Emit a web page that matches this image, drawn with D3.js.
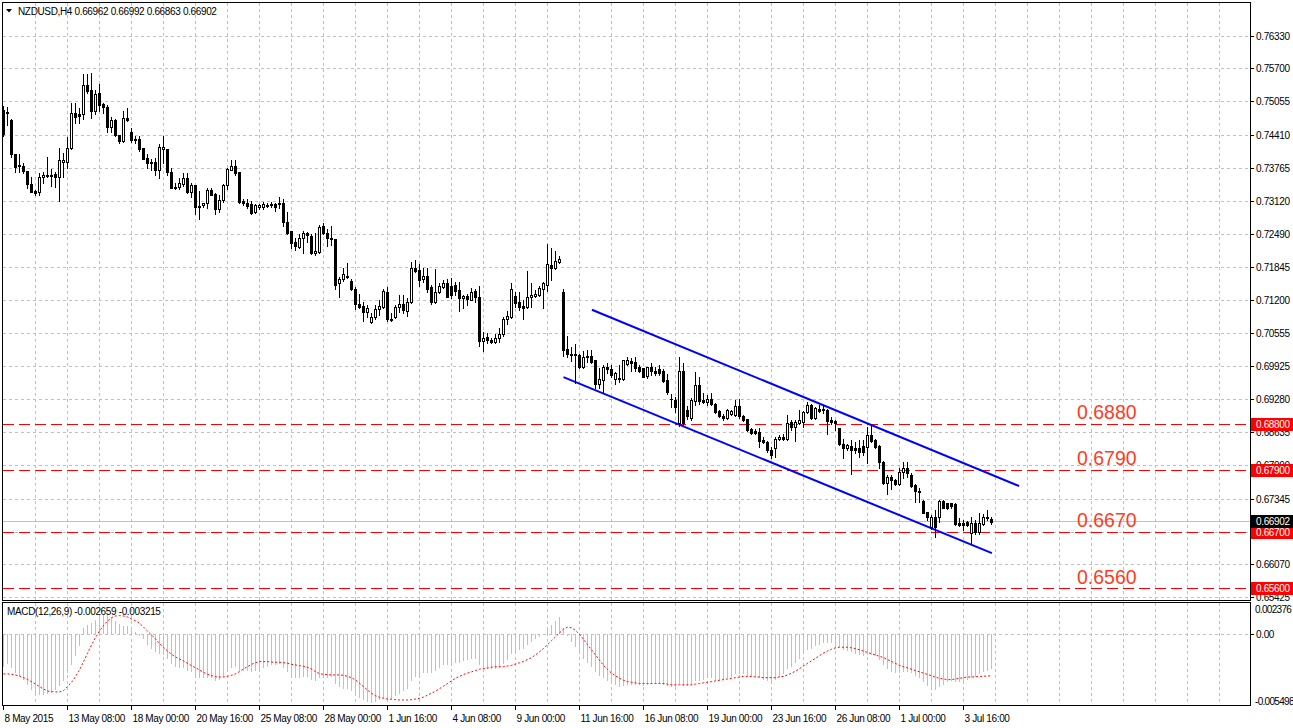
<!DOCTYPE html>
<html><head><meta charset="utf-8">
<script src="https://cdn.jsdelivr.net/npm/d3@7"></script>
<style>
body{margin:0;background:#fff;}
svg{display:block;}
text{font-family:"Liberation Sans",Arial,sans-serif;font-size:10px;letter-spacing:-0.35px;}
line{shape-rendering:crispEdges;}
</style>
</head><body>
<svg id="c" width="1293" height="728"></svg>
<script>
// ---------------- DATA ----------------
const symbolTitle = "NZDUSD,H4  0.66962 0.66992 0.66863 0.66902";
const macdTitle = "MACD(12,26,9) -0.002659 -0.003215";

const open = [0.7489,0.7486,0.7471,0.7405,0.7383,0.7382,0.7372,0.7347,0.7332,0.7330,
0.7359,0.7363,0.7363,0.7365,0.7359,0.7388,0.7388,0.7417,0.7485,0.7483,
0.7483,0.7539,0.7528,0.7487,0.7522,0.7502,0.7495,0.7456,0.7471,0.7442,
0.7429,0.7475,0.7448,0.7433,0.7433,0.7417,0.7396,0.7388,0.7388,0.7373,
0.7415,0.7415,0.7369,0.7341,0.7340,0.7347,0.7357,0.7330,0.7345,0.7303,
0.7305,0.7310,0.7334,0.7326,0.7297,0.7316,0.7345,0.7374,0.7382,0.7369,
0.7314,0.7310,0.7308,0.7291,0.7301,0.7301,0.7305,0.7307,0.7307,0.7307,
0.7310,0.7272,0.7254,0.7233,0.7223,0.7241,0.7252,0.7245,0.7212,0.7215,
0.7264,0.7252,0.7239,0.7239,0.7153,0.7161,0.7167,0.7157,0.7142,0.7113,
0.7109,0.7097,0.7078,0.7087,0.7103,0.7107,0.7136,0.7085,0.7087,0.7107,
0.7113,0.7099,0.7118,0.7184,0.7180,0.7161,0.7167,0.7146,0.7118,0.7136,
0.7147,0.7153,0.7149,0.7151,0.7140,0.7124,0.7128,0.7120,0.7138,0.7126,
0.7041,0.7050,0.7043,0.7039,0.7048,0.7054,0.7085,0.7087,0.7128,0.7118,
0.7109,0.7107,0.7126,0.7128,0.7130,0.7142,0.7151,0.7188,0.7184,0.7194,
0.7136,0.7025,0.7017,0.7017,0.7015,0.6990,0.7010,0.7013,0.7004,0.6957,
0.6965,0.6990,0.6986,0.6967,0.6969,0.6967,0.6996,0.7002,0.7000,0.6990,
0.6988,0.6973,0.6990,0.6984,0.6986,0.6984,0.6965,0.6929,0.6926,0.6882,
0.6984,0.6907,0.6891,0.6925,0.6955,0.6926,0.6923,0.6928,0.6919,0.6905,
0.6895,0.6891,0.6899,0.6897,0.6915,0.6896,0.6889,0.6870,0.6867,0.6865,
0.6849,0.6845,0.6829,0.6834,0.6851,0.6855,0.6851,0.6884,0.6875,0.6883,
0.6884,0.6904,0.6917,0.6891,0.6910,0.6907,0.6907,0.6888,0.6886,0.6872,
0.6842,0.6833,0.6837,0.6833,0.6833,0.6837,0.6836,0.6858,0.6850,0.6837,
0.6807,0.6765,0.6778,0.6772,0.6764,0.6787,0.6795,0.6782,0.6761,0.6751,
0.6730,0.6710,0.6681,0.6700,0.6700,0.6730,0.6726,0.6726,0.6724,0.6688,
0.6688,0.6690,0.6668,0.6688,0.6670,0.6686,0.6700,0.66962];

const high = [0.7497,0.7495,0.7473,0.7405,0.7404,0.7386,0.7372,0.7359,0.7334,0.7367,
0.7369,0.7398,0.7376,0.7369,0.7417,0.7406,0.7437,0.7503,0.7503,0.7493,
0.7559,0.7559,0.7561,0.7528,0.7541,0.7504,0.7500,0.7477,0.7473,0.7442,
0.7487,0.7493,0.7454,0.7440,0.7440,0.7417,0.7404,0.7394,0.7396,0.7423,
0.7440,0.7415,0.7378,0.7349,0.7357,0.7367,0.7367,0.7349,0.7345,0.7332,
0.7310,0.7338,0.7338,0.7328,0.7324,0.7347,0.7378,0.7392,0.7392,0.7369,
0.7318,0.7318,0.7314,0.7308,0.7308,0.7312,0.7310,0.7312,0.7310,0.7320,
0.7318,0.7291,0.7254,0.7241,0.7250,0.7254,0.7253,0.7250,0.7252,0.7266,
0.7270,0.7258,0.7264,0.7240,0.7165,0.7184,0.7192,0.7161,0.7146,0.7132,
0.7117,0.7111,0.7095,0.7111,0.7120,0.7142,0.7146,0.7095,0.7111,0.7130,
0.7130,0.7124,0.7194,0.7198,0.7190,0.7184,0.7184,0.7151,0.7182,0.7153,
0.7159,0.7161,0.7163,0.7155,0.7155,0.7130,0.7132,0.7144,0.7142,0.7149,
0.7058,0.7056,0.7048,0.7054,0.7066,0.7087,0.7099,0.7153,0.7136,0.7136,
0.7120,0.7177,0.7153,0.7140,0.7148,0.7155,0.7229,0.7221,0.7216,0.7206,
0.7142,0.7052,0.7029,0.7035,0.7016,0.7021,0.7023,0.7023,0.7004,0.6988,
0.6994,0.6998,0.6994,0.6981,0.6994,0.7005,0.7010,0.7008,0.7010,0.6994,
0.6989,0.6990,0.6999,0.6990,0.6994,0.6986,0.6978,0.6938,0.6933,0.7010,
0.6998,0.6915,0.6930,0.6981,0.6972,0.6940,0.6936,0.6940,0.6920,0.6908,
0.6900,0.6910,0.6907,0.6926,0.6928,0.6897,0.6890,0.6873,0.6871,0.6873,
0.6855,0.6847,0.6836,0.6855,0.6858,0.6860,0.6897,0.6888,0.6888,0.6907,
0.6906,0.6923,0.6919,0.6913,0.6917,0.6917,0.6910,0.6894,0.6888,0.6873,
0.6852,0.6842,0.6849,0.6845,0.6849,0.6849,0.6875,0.6878,0.6852,0.6839,
0.6808,0.6781,0.6781,0.6774,0.6795,0.6807,0.6807,0.6785,0.6763,0.6755,
0.6732,0.6710,0.6704,0.6713,0.6732,0.6732,0.6727,0.6727,0.6726,0.6697,
0.6694,0.6692,0.6700,0.6694,0.6708,0.6705,0.6713,0.66992];

const low = [0.7440,0.7460,0.7398,0.7369,0.7369,0.7367,0.7338,0.7330,0.7324,0.7324,
0.7349,0.7359,0.7343,0.7340,0.7314,0.7359,0.7378,0.7415,0.7464,0.7464,
0.7473,0.7522,0.7475,0.7483,0.7487,0.7485,0.7448,0.7448,0.7440,0.7425,
0.7427,0.7469,0.7427,0.7425,0.7411,0.7394,0.7378,0.7373,0.7363,0.7357,
0.7386,0.7363,0.7338,0.7337,0.7336,0.7343,0.7328,0.7320,0.7287,0.7279,
0.7301,0.7299,0.7324,0.7287,0.7291,0.7312,0.7336,0.7373,0.7363,0.7310,
0.7306,0.7299,0.7287,0.7290,0.7297,0.7297,0.7301,0.7301,0.7293,0.7299,
0.7264,0.7250,0.7221,0.7219,0.7221,0.7213,0.7233,0.7210,0.7208,0.7212,
0.7250,0.7225,0.7227,0.7142,0.7126,0.7157,0.7163,0.7140,0.7103,0.7105,
0.7080,0.7087,0.7076,0.7085,0.7091,0.7105,0.7080,0.7081,0.7086,0.7097,
0.7095,0.7089,0.7116,0.7175,0.7148,0.7155,0.7136,0.7114,0.7116,0.7134,
0.7145,0.7126,0.7124,0.7130,0.7099,0.7105,0.7111,0.7120,0.7118,0.7031,
0.7021,0.7037,0.7037,0.7037,0.7039,0.7052,0.7074,0.7086,0.7107,0.7101,
0.7085,0.7106,0.7107,0.7126,0.7128,0.7105,0.7138,0.7159,0.7182,0.7192,
0.7012,0.7010,0.7002,0.6959,0.6988,0.6989,0.7000,0.6998,0.6950,0.6950,
0.6942,0.6979,0.6971,0.6957,0.6961,0.6965,0.6994,0.6984,0.6984,0.6981,
0.6971,0.6970,0.6975,0.6975,0.6975,0.6961,0.6939,0.6913,0.6904,0.6876,
0.6878,0.6890,0.6887,0.6917,0.6919,0.6920,0.6917,0.6917,0.6902,0.6893,
0.6887,0.6889,0.6897,0.6896,0.6891,0.6886,0.6867,0.6860,0.6860,0.6835,
0.6843,0.6826,0.6814,0.6816,0.6849,0.6849,0.6849,0.6868,0.6848,0.6881,
0.6875,0.6902,0.6890,0.6890,0.6903,0.6902,0.6860,0.6881,0.6868,0.6839,
0.6815,0.6829,0.6783,0.6823,0.6817,0.6820,0.6805,0.6845,0.6834,0.6794,
0.6763,0.6744,0.6753,0.6762,0.6761,0.6776,0.6778,0.6758,0.6729,0.6729,
0.6707,0.6694,0.6677,0.6661,0.6690,0.6717,0.6715,0.6718,0.6685,0.6683,
0.6674,0.6683,0.6650,0.6667,0.6667,0.6684,0.6694,0.66863];

const close = [0.7444,0.7485,0.7405,0.7380,0.7382,0.7371,0.7347,0.7330,0.7328,0.7359,
0.7363,0.7362,0.7362,0.7359,0.7392,0.7392,0.7417,0.7485,0.7477,0.7479,
0.7539,0.7526,0.7487,0.7520,0.7500,0.7495,0.7456,0.7471,0.7442,0.7429,
0.7475,0.7471,0.7431,0.7432,0.7415,0.7394,0.7386,0.7386,0.7373,0.7419,
0.7419,0.7369,0.7338,0.7338,0.7349,0.7357,0.7330,0.7345,0.7301,0.7302,
0.7310,0.7334,0.7324,0.7297,0.7316,0.7345,0.7376,0.7382,0.7367,0.7312,
0.7310,0.7303,0.7289,0.7305,0.7305,0.7307,0.7304,0.7306,0.7301,0.7310,
0.7272,0.7252,0.7231,0.7225,0.7241,0.7252,0.7248,0.7212,0.7217,0.7262,
0.7252,0.7241,0.7241,0.7151,0.7161,0.7172,0.7166,0.7142,0.7113,0.7107,
0.7097,0.7105,0.7087,0.7103,0.7109,0.7138,0.7085,0.7083,0.7107,0.7113,
0.7101,0.7118,0.7184,0.7177,0.7159,0.7167,0.7142,0.7118,0.7136,0.7149,
0.7153,0.7126,0.7130,0.7138,0.7124,0.7128,0.7122,0.7136,0.7126,0.7041,
0.7048,0.7044,0.7039,0.7048,0.7054,0.7085,0.7089,0.7142,0.7116,0.7107,
0.7105,0.7126,0.7130,0.7132,0.7144,0.7153,0.7190,0.7184,0.7196,0.7200,
0.7023,0.7017,0.7015,0.7014,0.6990,0.7010,0.7013,0.7000,0.6957,0.6967,
0.6990,0.6986,0.6975,0.6979,0.6967,0.7004,0.7004,0.6998,0.6988,0.6984,
0.6971,0.6990,0.6984,0.6980,0.6980,0.6963,0.6942,0.6928,0.6913,0.6984,
0.6882,0.6895,0.6926,0.6955,0.6925,0.6922,0.6928,0.6919,0.6904,0.6895,
0.6891,0.6908,0.6906,0.6915,0.6895,0.6888,0.6868,0.6862,0.6863,0.6847,
0.6845,0.6829,0.6820,0.6852,0.6855,0.6851,0.6883,0.6875,0.6884,0.6888,
0.6904,0.6917,0.6891,0.6911,0.6905,0.6910,0.6886,0.6884,0.6882,0.6841,
0.6833,0.6839,0.6829,0.6829,0.6826,0.6826,0.6858,0.6847,0.6836,0.6807,
0.6765,0.6778,0.6772,0.6764,0.6787,0.6795,0.6785,0.6760,0.6750,0.6748,
0.6708,0.6700,0.6700,0.6681,0.6730,0.6718,0.6718,0.6720,0.6686,0.6685,
0.6685,0.6685,0.6688,0.6670,0.6688,0.6700,0.6697,0.66902];

// MACD values, in thousandths (x 0.001)
const MACD_UNIT = 0.001;
const macdMain = [-2.5,-2.3,-2.6,-3.0,-3.2,-3.5,-3.9,-4.3,-4.6,-4.7,
-4.7,-4.6,-4.5,-4.3,-4.0,-3.6,-3.0,-2.4,-1.7,-0.9,
0.46,0.72,0.85,1.10,1.23,1.49,1.54,1.28,1.02,0.77,
0.67,0.67,0.46,0.21,-0.1,-0.4,-0.8,-1.1,-1.4,-1.5,
-1.6,-1.9,-2.3,-2.5,-2.6,-2.6,-2.8,-2.9,-3.2,-3.4,
-3.4,-3.4,-3.4,-3.6,-3.5,-3.3,-2.9,-2.6,-2.5,-2.8,
-2.8,-2.8,-2.9,-2.8,-2.7,-2.6,-2.5,-2.4,-2.4,-2.3,
-2.6,-2.9,-3.2,-3.4,-3.4,-3.3,-3.3,-3.5,-3.6,-3.4,
-3.4,-3.4,-3.3,-3.8,-4.1,-4.2,-4.2,-4.4,-4.7,-4.9,
-5.1,-5.2,-5.3,-5.2,-5.1,-4.9,-5.0,-5.0,-4.8,-4.6,
-4.4,-4.2,-3.6,-3.3,-3.2,-3.0,-3.0,-3.0,-2.8,-2.6,
-2.4,-2.4,-2.3,-2.2,-2.2,-2.1,-2.0,-1.9,-1.9,-2.4,
-2.6,-2.7,-2.7,-2.7,-2.6,-2.3,-2.0,-1.5,-1.3,-1.2,
-1.1,-0.8,-0.6,-0.4,-0.2,0.0,0.4,0.7,1.0,1.3,
0.5,-0.1,-0.6,-1.0,-1.4,-1.9,-2.2,-2.5,-2.9,-3.2,
-3.4,-3.6,-3.8,-3.9,-4.1,-4.0,-3.9,-3.9,-3.9,-3.9,
-4.0,-3.9,-3.8,-3.8,-3.8,-3.9,-4.0,-4.1,-4.2,-3.8,
-4.0,-4.0,-3.9,-3.6,-3.6,-3.5,-3.4,-3.4,-3.5,-3.5,
-3.5,-3.4,-3.3,-3.1,-3.1,-3.1,-3.2,-3.3,-3.3,-3.4,
-3.5,-3.6,-3.7,-3.5,-3.3,-3.1,-2.7,-2.5,-2.2,-1.9,
-1.5,-1.2,-1.1,-0.9,-0.8,-0.7,-0.7,-0.7,-0.8,-1.0,
-1.2,-1.3,-1.4,-1.5,-1.6,-1.7,-1.6,-1.6,-1.7,-2.0,
-2.4,-2.7,-2.9,-3.0,-3.0,-2.9,-2.9,-3.0,-3.2,-3.4,
-3.7,-4.0,-4.2,-4.3,-4.1,-3.9,-3.7,-3.6,-3.7,-3.7,
-3.6,-3.5,-3.4,-3.3,-3.1,-2.9,-2.8,-2.659];

const macdSignal = [-3.06,-3.06,-3.09,-3.14,-3.22,-3.35,-3.48,-3.66,-3.84,-4.04,
-4.22,-4.38,-4.43,-4.45,-4.45,-4.35,-4.04,-3.71,-3.27,-2.76,
-2.11,-1.47,-0.83,-0.26,0.25,0.67,1.02,1.28,1.41,1.44,
1.41,1.34,1.18,1.05,0.85,0.56,0.25,-0.05,-0.36,-0.70,
-1.01,-1.29,-1.55,-1.75,-1.91,-2.06,-2.24,-2.42,-2.58,-2.76,
-2.94,-3.09,-3.19,-3.27,-3.30,-3.30,-3.24,-3.17,-3.06,-2.88,
-2.68,-2.50,-2.32,-2.19,-2.11,-2.11,-2.11,-2.14,-2.16,-2.16,
-2.19,-2.24,-2.32,-2.37,-2.42,-2.47,-2.55,-2.68,-2.88,-3.04,
-3.09,-3.12,-3.14,-3.14,-3.14,-3.17,-3.24,-3.35,-3.53,-3.78,
-4.04,-4.30,-4.56,-4.74,-4.87,-4.94,-5.00,-5.02,-5.05,-5.07,
-5.07,-5.07,-5.05,-5.00,-4.95,-4.85,-4.70,-4.55,-4.40,-4.20,
-4.00,-3.80,-3.60,-3.40,-3.25,-3.10,-3.00,-2.90,-2.80,-2.70,
-2.65,-2.60,-2.55,-2.50,-2.50,-2.50,-2.45,-2.40,-2.30,-2.20,
-2.10,-1.95,-1.80,-1.60,-1.35,-1.10,-0.80,-0.50,-0.20,0.10,
0.40,0.55,0.50,0.30,0.00,-0.40,-0.80,-1.20,-1.60,-2.00,
-2.40,-2.70,-3.00,-3.20,-3.40,-3.55,-3.65,-3.70,-3.75,-3.80,
-3.80,-3.80,-3.80,-3.80,-3.80,-3.80,-3.85,-3.90,-3.90,-3.90,
-3.90,-3.90,-3.90,-3.85,-3.80,-3.75,-3.70,-3.65,-3.60,-3.55,
-3.50,-3.45,-3.40,-3.35,-3.30,-3.25,-3.25,-3.25,-3.30,-3.30,
-3.35,-3.35,-3.35,-3.35,-3.30,-3.25,-3.15,-3.00,-2.85,-2.65,
-2.45,-2.25,-2.05,-1.85,-1.65,-1.45,-1.30,-1.15,-1.05,-1.00,
-1.00,-1.00,-1.05,-1.10,-1.20,-1.30,-1.40,-1.50,-1.60,-1.70,
-1.80,-1.95,-2.10,-2.25,-2.40,-2.50,-2.60,-2.70,-2.80,-2.90,
-3.00,-3.10,-3.20,-3.30,-3.40,-3.45,-3.50,-3.50,-3.45,-3.40,
-3.35,-3.30,-3.30,-3.28,-3.26,-3.24,-3.22,-3.215];

const priceTicks = [0.76330,0.75700,0.75055,0.74410,0.73765,0.73120,0.72490,0.71845,0.71200,
0.70555,0.69925,0.69280,0.68635,0.67990,0.67345,0.66700,0.66070,0.65425];
const priceTickLabels = ["0.76330","0.75700","0.75055","0.74410","0.73765","0.73120","0.72490","0.71845","0.71200",
"0.70555","0.69925","0.69280","0.68635","0.67990","0.67345","0.66700","0.66070","0.65425"];
const macdTicks = [0.002376, 0.0, -0.005498];
const macdTickLabels = ["0.002376","0.00","-0.005498"];

const timeLabels = ["8 May 2015","13 May 08:00","18 May 00:00","20 May 16:00","25 May 08:00","28 May 00:00",
"1 Jun 16:00","4 Jun 08:00","9 Jun 00:00","11 Jun 16:00","16 Jun 08:00","19 Jun 00:00",
"23 Jun 16:00","26 Jun 08:00","1 Jul 00:00","3 Jul 16:00"];
const timeLabelBars = [0,16,32,48,64,80,96,112,128,144,160,176,192,208,224,240];

const levels = [0.6880, 0.6790, 0.6670, 0.6560];
const levelTexts = ["0.6880","0.6790","0.6670","0.6560"];
const levelAxisTexts = ["0.68800","0.67900","0.66700","0.65600"];
const lastPrice = 0.66902, lastPriceText = "0.66902";

// channel lines: [barIndex, price]
const channelUpper = [[147.1, 0.71021],[253.9, 0.67597]];
const channelLower = [[140.0, 0.69711],[247.1, 0.66295]];

// ---------------- DRAW ----------------
const svg = d3.select("#c");
const L = 2.5, R = 1250.5, mainT = 2.5, mainB = 600.5, subT = 602.5, subB = 705.5;
const nVisible = 312;
const x = d3.scaleLinear().domain([0, nVisible]).range([3.5, 3.5 + 4*nVisible]);
const y = d3.scaleLinear().domain([0.65425, 0.76330]).range([597.9, 36.29]);
const ym = d3.scaleLinear().domain([-0.005498, 0.002376]).range([705.5, 603.5]);
const crisp = v => Math.floor(v) + 0.5;
const GRID = "#c0c0c0";

svg.append("rect").attr("width",1293).attr("height",728).attr("fill","#fff");

const defs = svg.append("defs");
defs.append("clipPath").attr("id","cm").append("rect").attr("x",L).attr("y",mainT).attr("width",R-L).attr("height",mainB-mainT);
defs.append("clipPath").attr("id","cs").append("rect").attr("x",L).attr("y",subT).attr("width",R-L).attr("height",subB-subT);

const gMain = svg.append("g").attr("clip-path","url(#cm)");
const gSub = svg.append("g").attr("clip-path","url(#cs)");

// vertical grid every 8 bars
const gridBars = d3.range(8, nVisible, 8);
[gMain, gSub].forEach((g,k) => {
  g.selectAll("line.vg").data(gridBars).join("line").attr("class","vg")
    .attr("x1",d=>crisp(x(d))).attr("x2",d=>crisp(x(d)))
    .attr("y1",k?subT:mainT).attr("y2",k?subB:mainB)
    .attr("stroke",GRID).attr("stroke-dasharray","3,3");
});
// horizontal grid main
gMain.selectAll("line.hg").data(priceTicks).join("line").attr("class","hg")
  .attr("x1",L).attr("x2",R).attr("y1",d=>crisp(y(d))).attr("y2",d=>crisp(y(d)))
  .attr("stroke",GRID).attr("stroke-dasharray","3,3");
gSub.append("line").attr("x1",L).attr("x2",R).attr("y1",crisp(ym(0))).attr("y2",crisp(ym(0)))
  .attr("stroke",GRID).attr("stroke-dasharray","3,3");

// current price line
gMain.append("line").attr("x1",L).attr("x2",R).attr("y1",crisp(y(lastPrice))).attr("y2",crisp(y(lastPrice)))
  .attr("stroke","#c0c0c0");

// red levels
gMain.selectAll("line.lv").data(levels).join("line").attr("class","lv")
  .attr("x1",L).attr("x2",R).attr("y1",d=>crisp(y(d))).attr("y2",d=>crisp(y(d)))
  .attr("stroke","#ff0000").attr("stroke-dasharray","11,5");

// channel
const lineGen = d3.line().x(d=>x(d[0])).y(d=>y(d[1]));
[channelUpper, channelLower].forEach(c => {
  gMain.append("path").attr("d", lineGen(c)).attr("stroke","#0000ff").attr("stroke-width",2).attr("fill","none");
});

// candles
const bars = d3.range(open.length).map(i => ({i, o:open[i], h:high[i], l:low[i], c:close[i]}));
const cg = gMain.append("g");
bars.forEach(b => {
  const cx = crisp(x(b.i));
  cg.append("line").attr("x1",cx).attr("x2",cx).attr("y1",Math.round(y(b.h))).attr("y2",Math.round(y(b.l))+1)
    .attr("stroke","#000").attr("stroke-width",1);
  const yt = Math.round(y(Math.max(b.o,b.c))), yb = Math.round(y(Math.min(b.o,b.c)));
  if (yb - yt < 1) {
    cg.append("line").attr("x1",cx-1.5).attr("x2",cx+1.5).attr("y1",yt+0.5).attr("y2",yt+0.5).attr("stroke","#000");
  } else if (b.c < b.o) {
    cg.append("rect").attr("x",cx-1.5).attr("y",yt).attr("width",3).attr("height",yb-yt+1).attr("fill","#000");
  } else {
    cg.append("rect").attr("x",cx-1).attr("y",yt+0.5).attr("width",2).attr("height",yb-yt)
      .attr("fill","#fff").attr("stroke","#000");
  }
});

// level text labels
gMain.selectAll("text.lt").data(levels).join("text").attr("class","lt")
  .attr("x",1077).attr("y",d=>y(d)-5)
  .attr("fill","#ff3c1e").style("font-size","19.5px").style("letter-spacing","0px")
  .text((d,i)=>levelTexts[i]);

// MACD histogram
gSub.selectAll("line.mh").data(macdMain).join("line").attr("class","mh")
  .attr("x1",(d,i)=>crisp(x(i))).attr("x2",(d,i)=>crisp(x(i)))
  .attr("y1",ym(0)).attr("y2",d=>ym(d*MACD_UNIT))
  .attr("stroke","#c0c0c0");
// signal
gSub.append("path").attr("d", d3.line().x((d,i)=>x(i)).y(d=>ym(d*MACD_UNIT))(macdSignal))
  .attr("fill","none").attr("stroke","#ff0000").attr("stroke-dasharray","2,2");

// frames
svg.append("rect").attr("x",L).attr("y",mainT).attr("width",R-L).attr("height",mainB-mainT).attr("fill","none").attr("stroke","#000");
svg.append("rect").attr("x",L).attr("y",subT).attr("width",R-L).attr("height",subB-subT).attr("fill","none").attr("stroke","#000");

// right axis ticks / labels
const ax = svg.append("g").style("letter-spacing","-0.5px");
priceTicks.forEach((p,i) => {
  const yy = crisp(y(p));
  ax.append("line").attr("x1",R).attr("x2",R+3).attr("y1",yy).attr("y2",yy).attr("stroke","#000");
  ax.append("text").attr("x",1256).attr("y",yy+3.5).attr("fill","#000").text(priceTickLabels[i]);
});
// level badges
levels.forEach((p,i) => {
  const yy = y(p);
  ax.append("rect").attr("x",1251).attr("y",Math.floor(yy)-6).attr("width",42).attr("height",13).attr("fill","#ff0000");
  ax.append("text").attr("x",1256).attr("y",Math.floor(yy)+4).attr("fill","#fff").text(levelAxisTexts[i]);
});
{
  const yy = y(lastPrice);
  ax.append("rect").attr("x",1251).attr("y",Math.floor(yy)-6).attr("width",42).attr("height",13).attr("fill","#000");
  ax.append("text").attr("x",1256).attr("y",Math.floor(yy)+4).attr("fill","#fff").text(lastPriceText);
}
// macd axis
ax.append("text").attr("x",1255).attr("y",ym(macdTicks[0])+9).style("letter-spacing","-0.7px").text(macdTickLabels[0]);
ax.append("line").attr("x1",R).attr("x2",R+3).attr("y1",crisp(ym(0))).attr("y2",crisp(ym(0))).attr("stroke","#000");
ax.append("text").attr("x",1256).attr("y",crisp(ym(0))+3.5).text(macdTickLabels[1]);
ax.append("text").attr("x",1255).attr("y",ym(macdTicks[2])-1).style("letter-spacing","-0.7px").text(macdTickLabels[2]);

// time axis
timeLabelBars.forEach((b,i) => {
  const xx = crisp(x(b));
  ax.append("line").attr("x1",xx).attr("x2",xx).attr("y1",subB).attr("y2",subB+4).attr("stroke","#000");
  ax.append("text").attr("x",xx+1).attr("y",722).style("letter-spacing","-0.35px").text(timeLabels[i]);
});

// titles
svg.append("path").attr("d","M6,9L12,9L9,12.5Z").attr("fill","#000");
svg.append("text").attr("x",18).attr("y",14.5).text(symbolTitle);
svg.append("text").attr("x",7).attr("y",614.5).text(macdTitle);
</script>
</body></html>
